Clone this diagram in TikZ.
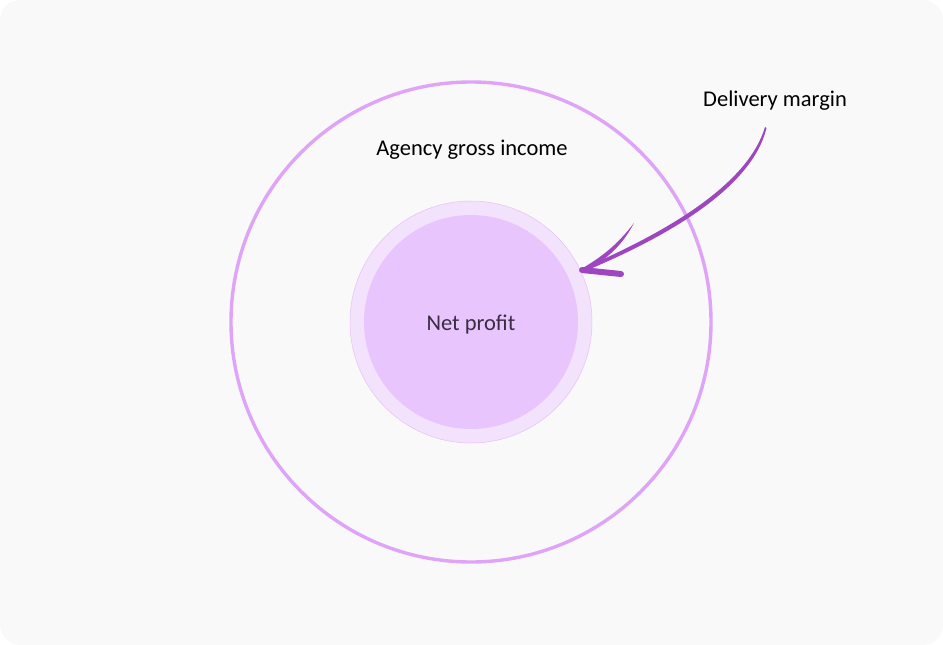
\documentclass[tikz,border=0pt]{standalone}
\usepackage{fontspec}
\setmainfont{Carlito}
\usepackage{tikz}
\definecolor{bgray}{HTML}{F9F9FA}
\definecolor{ringline}{HTML}{DFA3F7}
\definecolor{ringfill}{HTML}{F3E2FB}
\definecolor{corefill}{HTML}{E9C5FE}
\definecolor{arrowpurple}{HTML}{9D46BF}
\definecolor{inktext}{HTML}{3A2C42}

\begin{document}
\begin{tikzpicture}[x=1pt,y=-1pt,lbl/.style={font=\fontsize{22.5}{27}\selectfont,text=black}]
\useasboundingbox (0,0) rectangle (943,645);
\fill[bgray,rounded corners=20pt] (0,0) rectangle (943,645);
\draw[ringline,line width=3.4pt] (471,322) circle[radius=240];
\draw[ringline!70,fill=ringfill,line width=0.5pt] (471,322) circle[radius=121];
\fill[corefill] (471,322) circle[radius=107];
\node[lbl,text=inktext] (profit) at (471,325) {Net profit};
\node[lbl] (income) at (472,150) {Agency gross income};
\node[lbl] (margin) at (775,101) {Delivery margin};
% hand drawn arrow
\coordinate (tail) at (765,127);
\coordinate (tip) at (581,269);
\fill[arrowpurple] (tail) .. controls (748,185) and (665,233) .. (tip)
  -- (584,271.5) .. controls (667,237) and (752,188) .. (766.5,128) -- cycle;
\fill[arrowpurple] (634,223) .. controls (618,244) and (602,257) .. (tip)
  -- (584,272) .. controls (606,260) and (622,246) .. (634,223) -- cycle;
\draw[arrowpurple,line width=6pt,line cap=round] (582,270) -- (621,274);
\end{tikzpicture}
\end{document}
